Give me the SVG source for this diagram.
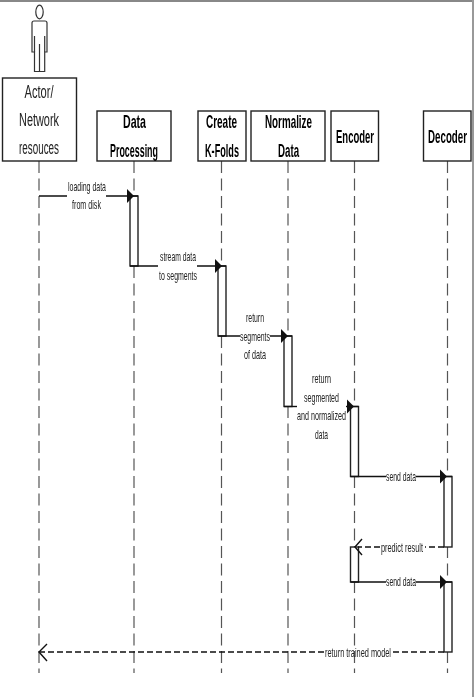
<svg xmlns="http://www.w3.org/2000/svg" width="474" height="697" viewBox="0 0 474 697">
<defs><filter id="soft" x="-10%" y="-10%" width="120%" height="120%"><feGaussianBlur stdDeviation="0.3"/></filter></defs>
<style>
text{font-family:"Liberation Sans",Arial,sans-serif;text-anchor:middle;fill:#222}
.txt{filter:url(#soft)}
.t{font-size:19px}
.b{font-size:18px;font-weight:bold;fill:#000}
.s{font-size:12px;fill:#222}
.box{fill:#fff;stroke:#222;stroke-width:1.4}
.act{fill:#fff;stroke:#222;stroke-width:1.4}
.life{fill:none;stroke:#555;stroke-width:1.2;stroke-dasharray:12 5.5}
.msg{fill:none;stroke:#111;stroke-width:1.4}
.ret{fill:none;stroke:#111;stroke-width:1.3;stroke-dasharray:6 3}
.open{fill:none;stroke:#111;stroke-width:1.4}
.head{fill:#111;stroke:none}
</style>
<rect width="474" height="697" fill="#fff"/>
<rect x="0" y="0" width="474" height="2" fill="#888"/>
<rect x="472" y="0" width="2" height="697" fill="#999"/>
<g id="lifelines">
<path class="life" d="M39 161V673"/>
<path class="life" d="M134 161V673"/>
<path class="life" d="M221.500 161V673"/>
<path class="life" d="M288 161V673"/>
<path class="life" d="M354.500 161V673"/>
<path class="life" d="M447.500 161V673"/>
</g>
<g id="actor-figure" fill="none" stroke="#333" stroke-width="1.2">
<ellipse cx="39.500" cy="12" rx="3.700" ry="6.800"/>
<path d="M34.500 71.500V52H32V23Q32 21 34 21H45Q47 21 47 23V52H44.700V71.500Z"/>
<path d="M34.500 52V36M44.700 52V36M39.500 44V71.500"/>
</g>
<g id="actor"><rect class="box" x="2.500" y="78" width="74" height="83"/>
<g class="txt"><text class="t" transform="translate(39 98) scale(.585 1)">Actor/</text>
<text class="t" transform="translate(39 126) scale(.574 1)">Network</text>
<text class="t" transform="translate(39 154) scale(.519 1)">resouces</text></g></g>
<g id="data-processing"><rect class="box" x="97" y="111" width="74" height="50"/>
<g class="txt"><text class="b" transform="translate(134.500 128) scale(.59 1)">Data</text>
<text class="b" transform="translate(134 157) scale(.495 1)">Processing</text></g></g>
<g id="create-k-folds"><rect class="box" x="198" y="111" width="48" height="50"/>
<g class="txt"><text class="b" transform="translate(221.500 128) scale(.553 1)">Create</text>
<text class="b" transform="translate(222 157) scale(.507 1)">K-Folds</text></g></g>
<g id="normalize-data"><rect class="box" x="251" y="111" width="74" height="50"/>
<g class="txt"><text class="b" transform="translate(288.500 128) scale(.546 1)">Normalize</text>
<text class="b" transform="translate(288.500 157) scale(.54 1)">Data</text></g></g>
<g id="encoder"><rect class="box" x="331" y="111" width="47.500" height="50"/>
<g class="txt"><text class="b" transform="translate(355 143) scale(.528 1)">Encoder</text></g></g>
<g id="decoder"><rect class="box" x="423.500" y="111" width="47.500" height="50"/>
<g class="txt"><text class="b" transform="translate(447.500 143) scale(.54 1)">Decoder</text></g></g>
<g id="activations">
<rect class="act" x="130" y="196" width="8" height="70"/>
<rect class="act" x="218" y="266" width="8" height="70"/>
<rect class="act" x="284" y="336" width="8" height="70.500"/>
<rect class="act" x="350.500" y="406.500" width="8" height="70"/>
<rect class="act" x="444" y="476.500" width="8" height="70.500"/>
<rect class="act" x="350.500" y="547" width="8" height="35"/>
<rect class="act" x="444" y="582" width="8" height="70"/>
</g>
<g id="connectors">
<path class="msg" d="M39 196H67M106 196H138"/>
<path class="head" d="M127 189L134 196L127 203Z"/>
<path class="msg" d="M130 266H158M197 266H226"/>
<path class="head" d="M215 259L222 266L215 273Z"/>
<path class="msg" d="M218 336H240M270 336H292"/>
<path class="head" d="M281 329L288 336L281 343Z"/>
<path class="msg" d="M284 406.500H297"/>
<path class="msg" d="M346 406.500H358.500"/>
<path class="head" d="M347 399.500L354 406.500L347 413.500Z"/>
<path class="msg" d="M350.500 476.500H386M416 476.500H452"/>
<path class="head" d="M440 469.500L447 476.500L440 483.500Z"/>
<path class="ret" d="M444 547H425M380 547H358"/>
<path class="open" d="M362 539L355 547L362 555"/>
<path class="msg" d="M350.500 582H386M416 582H452"/>
<path class="head" d="M440 575L447 582L440 589Z"/>
<path class="ret" d="M444 652H392M324 652H40"/>
<path class="open" d="M47 644L39 652L47 661"/>
</g>
<g id="labels" class="txt">
<text class="s" transform="translate(87 191) scale(.581 1)">loading data</text>
<text class="s" transform="translate(86.500 209) scale(.596 1)">from disk</text>
<text class="s" transform="translate(178 261) scale(.568 1)">stream data</text>
<text class="s" transform="translate(178 280) scale(.581 1)">to segments</text>
<text class="s" transform="translate(255 322) scale(.575 1)">return</text>
<text class="s" transform="translate(255 341) scale(.577 1)">segments</text>
<text class="s" transform="translate(255 359) scale(.6 1)">of data</text>
<text class="s" transform="translate(321.500 383) scale(.607 1)">return</text>
<text class="s" transform="translate(321.500 402) scale(.589 1)">segmented</text>
<text class="s" transform="translate(321.500 420) scale(.597 1)">and normalized</text>
<text class="s" transform="translate(321.500 439) scale(.556 1)">data</text>
<text class="s" transform="translate(401 481) scale(.569 1)">send data</text>
<text class="s" transform="translate(402 552) scale(.611 1)">predict result</text>
<text class="s" transform="translate(401 586) scale(.569 1)">send data</text>
<text class="s" transform="translate(358 657) scale(.615 1)">return trained model</text>
</g>
</svg>
